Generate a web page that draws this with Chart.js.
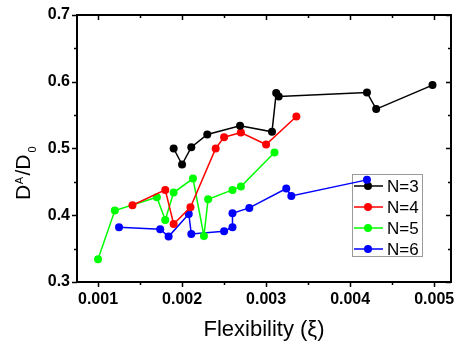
<!DOCTYPE html>
<html>
<head>
<meta charset="utf-8">
<script src="https://cdn.jsdelivr.net/npm/chart.js@4.4.1/dist/chart.umd.min.js"></script>
<style>
  html, body { margin: 0; padding: 0; background: #fff; }
  #wrap { width: 474px; height: 345px; position: relative; }
</style>
</head>
<body>
<div id="wrap"><canvas id="chart"></canvas></div>
<script>
// tick positions
const xTicks = [0.001, 0.002, 0.003, 0.004, 0.005];
const xMinor = [0.0015, 0.0025, 0.0035, 0.0045];
const yTicks = [0.3, 0.4, 0.5, 0.6, 0.7];
const yMinor = [0.35, 0.45, 0.55, 0.65];

// series
const seriesNames = ['N=3', 'N=4', 'N=5', 'N=6'];
const n3X = [0.0019, 0.0020, 0.00211, 0.0023, 0.00269, 0.00307, 0.00312, 0.00315, 0.0042, 0.00431, 0.00498];
const n3Y = [0.500, 0.476, 0.502, 0.521, 0.534, 0.525, 0.583, 0.578, 0.584, 0.559, 0.595];
const n4X = [0.00141, 0.0018, 0.0019, 0.0021, 0.0024, 0.0025, 0.0027, 0.0030, 0.00336];
const n4Y = [0.415, 0.438, 0.387, 0.412, 0.500, 0.517, 0.524, 0.506, 0.548];
const n5X = [0.0010, 0.0012, 0.0017, 0.0018, 0.0019, 0.00213, 0.00226, 0.00231, 0.0026, 0.0027, 0.0031];
const n5Y = [0.334, 0.407, 0.427, 0.393, 0.434, 0.455, 0.369, 0.424, 0.438, 0.443, 0.494];
const n6X = [0.00125, 0.00174, 0.00184, 0.00208, 0.00211, 0.0025, 0.0026, 0.0026, 0.0028, 0.00324, 0.0033, 0.0042];
const n6Y = [0.382, 0.379, 0.368, 0.402, 0.372, 0.376, 0.382, 0.403, 0.411, 0.440, 0.429, 0.453];

const colors = ['#000000', '#ff0000', '#00ff00', '#0000ff'];
const FONT = "'Liberation Sans', Arial, sans-serif";

function pairs(xs, ys) {
  return xs.map((x, i) => ({ x: x, y: ys[i] }));
}

const allX = [n3X, n4X, n5X, n6X];
const allY = [n3Y, n4Y, n5Y, n6Y];

const datasets = seriesNames.map((name, i) => ({
  label: name,
  data: pairs(allX[i], allY[i]),
  showLine: true,
  borderColor: colors[i],
  backgroundColor: colors[i],
  borderWidth: 1.5,
  pointRadius: 4,
  pointHoverRadius: 4,
  pointBorderWidth: 0,
  pointBackgroundColor: colors[i]
}));

// axis box, minor/major ticks on all four sides, legend box
const framePlugin = {
  id: 'frame',
  beforeDatasetsDraw(chart) {
    const { ctx, chartArea: a, scales: { x, y } } = chart;
    ctx.save();
    ctx.strokeStyle = '#000';
    ctx.lineWidth = 1.5;
    ctx.beginPath();
    xTicks.forEach(v => {
      const px = Math.round(x.getPixelForValue(v)) + 0.5;
      ctx.moveTo(px, a.bottom); ctx.lineTo(px, a.bottom + 5);
      ctx.moveTo(px, a.top); ctx.lineTo(px, a.top + 5);
    });
    xMinor.forEach(v => {
      const px = Math.round(x.getPixelForValue(v)) + 0.5;
      ctx.moveTo(px, a.bottom); ctx.lineTo(px, a.bottom + 3);
      ctx.moveTo(px, a.top); ctx.lineTo(px, a.top + 3);
    });
    yTicks.forEach(v => {
      const py = Math.round(y.getPixelForValue(v)) + 0.5;
      ctx.moveTo(a.left, py); ctx.lineTo(a.left - 5, py);
      ctx.moveTo(a.right, py); ctx.lineTo(a.right - 5, py);
    });
    yMinor.forEach(v => {
      const py = Math.round(y.getPixelForValue(v)) + 0.5;
      ctx.moveTo(a.left, py); ctx.lineTo(a.left - 3, py);
      ctx.moveTo(a.right, py); ctx.lineTo(a.right - 3, py);
    });
    ctx.stroke();
    ctx.lineWidth = 2;
    ctx.strokeRect(a.left, a.top, a.right - a.left, a.bottom - a.top);

    // legend
    const lx = 352, ly = 174, lw = 70, lh = 82;
    ctx.lineWidth = 1;
    ctx.strokeStyle = '#9a9a9a';
    ctx.strokeRect(lx + 0.5, ly + 0.5, lw, lh);
    ctx.font = '17px ' + FONT;
    ctx.textBaseline = 'middle';
    ctx.textAlign = 'left';
    chart.data.datasets.forEach((ds, i) => {
      const ry = ly + 12 + i * 21;
      ctx.strokeStyle = ds.borderColor;
      ctx.lineWidth = 1.5;
      ctx.beginPath();
      ctx.moveTo(lx + 2, ry); ctx.lineTo(lx + 31, ry);
      ctx.stroke();
      ctx.fillStyle = ds.backgroundColor;
      ctx.beginPath();
      ctx.arc(lx + 16, ry, 4, 0, Math.PI * 2);
      ctx.fill();
      ctx.fillStyle = '#000';
      ctx.fillText(ds.label, lx + 35, ry + 1);
    });
    ctx.restore();
  },
  afterDraw(chart) {
    // y title D^A/D_0 with raised A and lowered 0
    const { ctx } = chart;
    ctx.save();
    ctx.translate(30, 200);
    ctx.rotate(-Math.PI / 2);
    ctx.fillStyle = '#000';
    ctx.textBaseline = 'alphabetic';
    ctx.textAlign = 'left';
    const big = '21px ' + FONT, small = '11px ' + FONT;
    let cx = 0;
    ctx.font = big; ctx.fillText('D', cx, 0); cx += ctx.measureText('D').width + 0.5;
    ctx.font = small; ctx.fillText('A', cx, -7); cx += ctx.measureText('A').width + 1.5;
    ctx.font = big; ctx.fillText('/D', cx, 0); cx += ctx.measureText('/D').width + 2;
    ctx.font = small; ctx.fillText('0', cx, 6);
    ctx.restore();
  }
};

new Chart(document.getElementById('chart'), {
  type: 'scatter',
  data: { datasets: datasets },
  options: {
    responsive: true,
    maintainAspectRatio: false,
    animation: false,
    devicePixelRatio: 1,
    layout: { padding: { top: 15, right: 23, left: 0, bottom: 0 } },
    plugins: {
      legend: { display: false },
      tooltip: { enabled: false }
    },
    scales: {
      x: {
        type: 'linear',
        min: 0.00075,
        max: 0.0052,
        afterBuildTicks: s => { s.ticks = xTicks.map(v => ({ value: v })); },
        afterFit: s => { s.height = 63; },
        grid: { display: false, drawTicks: true, tickLength: 5 },
        border: { display: false },
        ticks: {
          color: '#000',
          padding: 3,
          maxRotation: 0,
          autoSkip: false,
          font: { family: FONT, size: 16, weight: 'bold' },
          callback: v => v.toFixed(3)
        },
        title: {
          display: true,
          text: 'Flexibility (ξ)',
          color: '#000',
          font: { family: FONT, size: 22 },
          padding: { top: 0, bottom: 2 }
        }
      },
      y: {
        type: 'linear',
        min: 0.3,
        max: 0.7,
        afterBuildTicks: s => { s.ticks = yTicks.map(v => ({ value: v })); },
        afterFit: s => { s.width = 77; },
        grid: { display: false, drawTicks: true, tickLength: 5 },
        border: { display: false },
        ticks: {
          color: '#000',
          padding: 2,
          autoSkip: false,
          font: { family: FONT, size: 16, weight: 'bold' },
          callback: v => v.toFixed(1)
        }
      }
    }
  },
  plugins: [framePlugin]
});
</script>
</body>
</html>
